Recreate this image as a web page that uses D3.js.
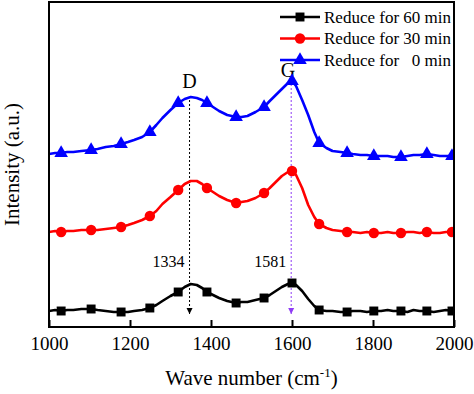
<!DOCTYPE html>
<html>
<head>
<meta charset="utf-8">
<script src="https://cdn.jsdelivr.net/npm/d3@7"></script>
<style>
  body { margin: 0; background: #fff; }
  text { font-family: "Liberation Serif", "Times New Roman", serif; }
</style>
</head>
<body>
<svg id="raman"></svg>
<script>
// wavenumbers (cm-1) sampled along the spectra
const wn = [1000,1015,1030,1045,1060,1080,1104,1120,1140,1160,
  1178,1195,1210,1230,1249,1265,1280,1300,1319,1335,
  1350,1365,1378,1390,1405,1420,1440,1462,1475,1490,
  1510,1531,1545,1560,1575,1590,1600,1610,1625,1640,
  1655,1667,1685,1700,1720,1736,1750,1769,1785,1802,
  1820,1836,1850,1869,1885,1900,1915,1933,1950,1965,
  1980,1995,2000];

// intensities (a.u., stacked offsets included)
const min60 = [160,170,160,170,170,180,180,170,160,150,
  150,150,160,170,190,220,260,310,350,400,
  430,420,390,350,320,290,260,240,250,250,
  270,290,320,360,400,430,440,420,360,280,
  210,170,160,160,150,150,160,160,150,160,
  160,170,160,160,150,170,160,160,150,160,
  170,160,160];
const min30 = [950,960,950,960,960,970,970,970,980,990,
  1000,1020,1040,1070,1110,1160,1230,1300,1370,1430,
  1460,1460,1430,1390,1350,1310,1270,1240,1250,1260,
  1290,1340,1390,1450,1510,1550,1560,1520,1390,1220,
  1100,1030,990,970,960,950,950,940,950,940,
  940,950,940,940,950,950,940,950,940,940,
  950,950,950];
const min0 = [1730,1740,1740,1750,1750,1760,1770,1780,1800,1810,
  1830,1850,1870,1900,1950,2020,2090,2170,2240,2280,
  2300,2290,2270,2240,2200,2160,2120,2100,2100,2110,
  2150,2200,2260,2320,2380,2440,2460,2410,2270,2120,
  1950,1840,1790,1760,1750,1740,1730,1720,1720,1710,
  1710,1710,1700,1700,1710,1720,1720,1730,1720,1710,
  1710,1710,1710];

const markerWn = [1030,1104,1178,1249,1319,1390,1462,1531,1600,1667,1736,1802,1869,1933,1995];
const seriesNames = ["Reduce for 60 min", "Reduce for 30 min", "Reduce for   0 min"];
const xTicks = [1000, 1200, 1400, 1600, 1800, 2000];

// D and G bands
const bandLabels = ["D", "G"];
const bandWn = [1347, 1598];
const bandText = ["1334", "1581"];

const width = 474;
const height = 394;
const margin = ({ top: 2, right: 20, bottom: 67, left: 49 });

const colors = ["#000000", "#ff0000", "#0000ff"];
const shapes = [d3.symbolSquare, d3.symbolCircle, d3.symbolTriangle];
const shapeSize = [80, 85, 80];
const series = [min60, min30, min0];

let xScale = d3.scaleLinear()
    .domain([1000, 2000])
    .range([margin.left, width - margin.right]);

let yScale = d3.scaleLinear()
    .domain([0, 3250])
    .range([height - margin.bottom, margin.top]);

const svg = d3.select("#raman")
    .attr("width", width)
    .attr("height", height);

svg.append("defs").selectAll("marker")
    .data([["arrBlack", "#000"], ["arrPurple", "#8f3cf5"]])
    .join("marker")
    .attr("id", d => d[0])
    .attr("viewBox", "0 0 10 10")
    .attr("refX", 10).attr("refY", 5)
    .attr("markerWidth", 6).attr("markerHeight", 8)
    .attr("markerUnits", "userSpaceOnUse")
    .attr("orient", "auto")
    .append("path")
    .attr("d", "M0,0L10,5L0,10z")
    .attr("fill", d => d[1]);

// dotted band lines
const bandColor = ["#000000", "#8f3cf5"];
const bandTop = [2270, 2430];
bandWn.forEach((w, i) => {
    svg.append("line")
        .attr("x1", xScale(w)).attr("x2", xScale(w))
        .attr("y1", yScale(bandTop[i]))
        .attr("y2", yScale(130))
        .attr("stroke", bandColor[i])
        .attr("stroke-width", 1)
        .attr("stroke-dasharray", "2,2")
        .attr("marker-end", `url(#${i == 0 ? "arrBlack" : "arrPurple"})`);
    svg.append("text")
        .attr("x", xScale(w) - 21)
        .attr("y", yScale(600))
        .attr("text-anchor", "middle")
        .attr("font-size", 16)
        .text(bandText[i]);
});

svg.append("text")
    .attr("x", xScale(1347)).attr("y", yScale(2390))
    .attr("text-anchor", "middle").attr("font-size", 20)
    .text(bandLabels[0]);
svg.append("text")
    .attr("x", xScale(1590)).attr("y", yScale(2500))
    .attr("text-anchor", "middle").attr("font-size", 20)
    .text(bandLabels[1]);

const line = d3.line()
    .x((d, i) => xScale(wn[i]))
    .y(d => yScale(d));

const clip = svg.append("clipPath").attr("id", "plotClip")
    .append("rect")
    .attr("x", margin.left).attr("y", margin.top)
    .attr("width", width - margin.right - margin.left)
    .attr("height", height - margin.bottom - margin.top);

series.forEach((vals, s) => {
    const g = svg.append("g").attr("clip-path", "url(#plotClip)");
    g.append("path")
        .datum(vals)
        .attr("fill", "none")
        .attr("stroke", colors[s])
        .attr("stroke-width", 2.6)
        .attr("stroke-linejoin", "round")
        .attr("d", line);
    g.selectAll("path.mk")
        .data(markerWn)
        .enter()
        .append("path")
        .attr("class", "mk")
        .attr("d", d3.symbol().type(shapes[s]).size(shapeSize[s]))
        .attr("transform", d => `translate(${xScale(d)},${yScale(vals[wn.indexOf(d)])})`)
        .attr("fill", colors[s]);
});

// frame
svg.append("rect")
    .attr("x", margin.left).attr("y", margin.top)
    .attr("width", width - margin.right - margin.left)
    .attr("height", height - margin.bottom - margin.top)
    .attr("fill", "none")
    .attr("stroke", "#000")
    .attr("stroke-width", 2);

xAxis = g => g
    .attr("transform", `translate(0,${height - margin.bottom})`)
    .call(d3.axisBottom(xScale).tickValues(xTicks).tickSizeInner(-7).tickSizeOuter(0).tickPadding(10).tickFormat(d3.format("d")))
    .call(g => g.select(".domain").remove())
    .call(g => g.selectAll("line").attr("stroke-width", 2))
    .call(g => g.selectAll("text").attr("font-size", 19).attr("font-family", "Liberation Serif, serif"));

svg.append("g").call(xAxis);

// axis titles
const xt = svg.append("text")
    .attr("x", (margin.left + width - margin.right) / 2)
    .attr("y", 385)
    .attr("text-anchor", "middle")
    .attr("font-size", 21);
xt.append("tspan").text("Wave number (cm");
xt.append("tspan").attr("font-size", 13).attr("dy", -8).text("-1");
xt.append("tspan").attr("dy", 8).text(")");

svg.append("text")
    .attr("transform", `translate(19,${(margin.top + height - margin.bottom) / 2}) rotate(-90)`)
    .attr("text-anchor", "middle")
    .attr("font-size", 21)
    .text("Intensity (a.u.)");

// legend
const legend = svg.append("g");
seriesNames.forEach((name, i) => {
    const y = 17 + i * 21.5;
    legend.append("line")
        .attr("x1", 280).attr("x2", 320)
        .attr("y1", y).attr("y2", y)
        .attr("stroke", colors[i]).attr("stroke-width", 2.6);
    legend.append("path")
        .attr("d", d3.symbol().type(shapes[i]).size(shapeSize[i]))
        .attr("transform", `translate(300,${y})`)
        .attr("fill", colors[i]);
    legend.append("text")
        .attr("x", 324).attr("y", y + 5.5)
        .attr("font-size", 17)
        .style("white-space", "pre")
        .text(name);
});
</script>
</body>
</html>
